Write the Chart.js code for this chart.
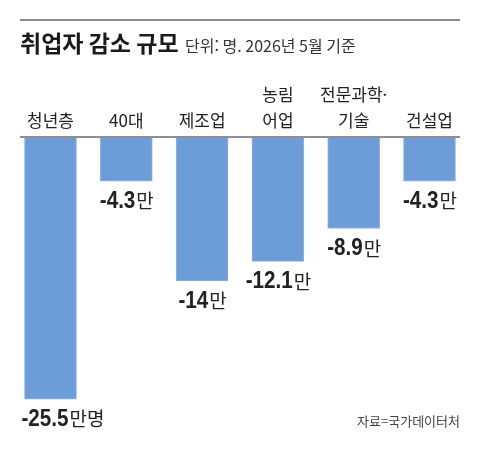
<!DOCTYPE html>
<html lang="ko">
<head>
<meta charset="utf-8">
<script src="https://cdn.jsdelivr.net/npm/chart.js@4.4.1/dist/chart.umd.min.js"></script>
<style>
  html, body { margin: 0; padding: 0; background: #fff; }
  #wrap { width: 480px; height: 450px; position: relative; }
</style>
</head>
<body>
<div id="wrap"><canvas id="jobsChart"></canvas></div>
<script>
// Data
const categories = [['청년층'], ['40대'], ['제조업'], ['농림', '어업'], ['전문과학·', '기술'], ['건설업']];
const values = [-25.5, -4.3, -14, -12.1, -8.9, -4.3];
const valueNumbers = ['-25.5', '-4.3', '-14', '-12.1', '-8.9', '-4.3'];
const valueUnits = ['만명', '만', '만', '만', '만', '만'];

const titleText = '취업자 감소 규모';
const subtitleText = '단위: 명. 2026년 5월 기준';
const sourceText = '자료=국가데이터처';

const KR = "'Noto Sans CJK KR', 'Noto Sans', sans-serif";
const NUM = "'Liberation Sans Narrow', 'Liberation Sans', " + KR;
const NUM_SQUEEZE = 0.86; // condensed look for the figures

// Draws title, rules, category labels and value labels around the bars
const decorPlugin = {
    id: 'decor',
    afterDatasetsDraw(chart) {
        const ctx = chart.ctx;
        const xScale = chart.scales.x;
        const yScale = chart.scales.y;
        const meta = chart.getDatasetMeta(0);
        const zeroY = yScale.getPixelForValue(0);

        ctx.save();

        // top rule
        ctx.fillStyle = '#8a8a8a';
        ctx.fillRect(20, 19, 440, 2);

        // title + subtitle
        ctx.textBaseline = 'alphabetic';
        ctx.textAlign = 'left';
        ctx.fillStyle = '#1a1a1a';
        ctx.font = 'bold 23px ' + KR;
        ctx.fillText(titleText, 20, 52);
        ctx.fillStyle = '#333';
        ctx.font = '16px ' + KR;
        ctx.fillText(subtitleText, 185, 52);

        // category labels (bottom-aligned above the zero line)
        ctx.textAlign = 'center';
        ctx.textBaseline = 'middle';
        ctx.font = '17px ' + KR;
        ctx.fillStyle = '#222';
        categories.forEach((lines, i) => {
            const x = xScale.getPixelForValue(i);
            const lastY = 121;
            lines.forEach((line, j) => {
                ctx.fillText(line, x, lastY - (lines.length - 1 - j) * 26);
            });
        });

        // zero axis line
        ctx.fillStyle = '#8f8f8f';
        ctx.fillRect(20, zeroY - 1, 440, 2);

        // value labels below each bar
        const numFont = 'bold 24px ' + NUM;
        const unitFont = '19px ' + KR;
        meta.data.forEach((bar, i) => {
            ctx.font = numFont;
            const numW = ctx.measureText(valueNumbers[i]).width * NUM_SQUEEZE;
            ctx.font = unitFont;
            const unitW = ctx.measureText(valueUnits[i]).width;
            const total = numW + unitW;
            let startX = bar.x - total / 2;
            if (i === 0) startX = bar.x - bar.width / 2 - 3;
            const y = bar.y + 20;
            ctx.textAlign = 'left';
            ctx.textBaseline = 'middle';
            ctx.fillStyle = '#222';
            ctx.save();
            ctx.translate(startX, y);
            ctx.scale(NUM_SQUEEZE, 1);
            ctx.font = numFont;
            ctx.fillText(valueNumbers[i], 0, 0);
            ctx.restore();
            ctx.font = unitFont;
            ctx.fillText(valueUnits[i], startX + numW + 1, y);
        });

        // source note
        ctx.textAlign = 'right';
        ctx.textBaseline = 'middle';
        ctx.font = '13px ' + KR;
        ctx.fillStyle = '#444';
        ctx.fillText(sourceText, 460, 421);

        ctx.restore();
    }
};

const ctx = document.getElementById('jobsChart').getContext('2d');
new Chart(ctx, {
    type: 'bar',
    data: {
        labels: categories.map(c => c.join(' ')),
        datasets: [{
            data: values,
            backgroundColor: '#6d9dd8',
            borderColor: '#8fb4e4',
            borderWidth: 1,
            barThickness: 52
        }]
    },
    options: {
        responsive: true,
        maintainAspectRatio: false,
        animation: false,
        layout: {
            padding: { left: 12.6, right: 12.6, top: 137, bottom: 4.6 }
        },
        plugins: {
            legend: { display: false },
            tooltip: { enabled: false }
        },
        scales: {
            x: { display: false, offset: true },
            y: { display: false, min: -30, max: 0 }
        }
    },
    plugins: [decorPlugin]
});
</script>
</body>
</html>
